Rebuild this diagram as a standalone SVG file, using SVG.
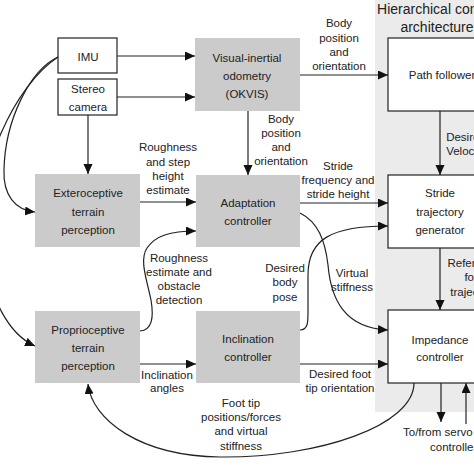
<svg xmlns="http://www.w3.org/2000/svg" width="474" height="474" viewBox="0 0 474 474">
<style>
text{font-family:"Liberation Sans",Arial,sans-serif;font-size:11.5px;fill:#222;text-anchor:middle}
.title{font-size:14px}
.st{text-anchor:start}
.g{fill:#cbcbcb;stroke:none}
.w{fill:#fff;stroke:#222;stroke-width:1.2}
.c{fill:none;stroke:#222;stroke-width:1.2}
</style>
<defs>
<marker id="ah" markerUnits="userSpaceOnUse" markerWidth="11" markerHeight="10" refX="10" refY="4.5" orient="auto">
<path d="M0,0 L10,4.5 L0,9 z" fill="#111"/>
</marker>
</defs>
<rect width="474" height="474" fill="#fff"/>
<g id="panel">
<rect x="375" y="0" width="110" height="412" fill="#ebebeb"/>
<text class="title" x="437" y="14">Hierarchical control</text>
<text class="title" x="437" y="32">architecture</text>
</g>
<g id="imu"><rect class="w" x="58" y="38" width="59" height="35"/><text x="88" y="61">IMU</text></g>
<g id="stereo"><rect class="w" x="58" y="79" width="59" height="36"/><text x="88" y="93">Stereo</text><text x="88" y="111">camera</text></g>
<g id="vio"><rect class="g" x="195" y="38" width="105" height="73"/><text x="247" y="62">Visual-inertial</text><text x="247" y="80">odometry</text><text x="247" y="98">(OKVIS)</text></g>
<g id="ext"><rect class="g" x="35" y="174" width="105" height="73"/><text x="88" y="197">Exteroceptive</text><text x="88" y="216">terrain</text><text x="88" y="234">perception</text></g>
<g id="adapt"><rect class="g" x="196" y="175" width="104" height="72"/><text x="248" y="207">Adaptation</text><text x="248" y="225">controller</text></g>
<g id="prop"><rect class="g" x="35" y="311" width="105" height="72"/><text x="88" y="334">Proprioceptive</text><text x="88" y="352">terrain</text><text x="88" y="370">perception</text></g>
<g id="incl"><rect class="g" x="196" y="311" width="104" height="72"/><text x="248" y="343">Inclination</text><text x="248" y="361">controller</text></g>
<g id="path"><rect class="w" x="388" y="38" width="110" height="73"/><text x="442" y="79">Path follower</text></g>
<g id="stride"><rect class="w" x="388" y="175" width="110" height="73"/><text x="440" y="197">Stride</text><text x="440" y="216">trajectory</text><text x="440" y="234">generator</text></g>
<g id="imp"><rect class="w" x="388" y="310" width="110" height="73"/><text x="440" y="344">Impedance</text><text x="440" y="361">controller</text></g>
<g id="connectors">
<path class="c" marker-end="url(#ah)" d="M117,56 H195"/>
<path class="c" marker-end="url(#ah)" d="M117,97 H195"/>
<path class="c" marker-end="url(#ah)" d="M88,115 V174"/>
<path class="c" marker-end="url(#ah)" d="M58,57 C30,70 5,120 4,170 C3,195 15,210 35,212"/>
<path class="c" marker-end="url(#ah)" d="M58,57 C15,85 -25,170 -18,240 C-12,300 10,335 35,346"/>
<path class="c" marker-end="url(#ah)" d="M300,75 H388"/>
<path class="c" marker-end="url(#ah)" d="M248,111 V175"/>
<path class="c" marker-end="url(#ah)" d="M140,202 H196"/>
<path class="c" marker-end="url(#ah)" d="M140,331 C152,330 154,318 151,300 C147,280 139,260 147,248 C155,236 170,231 196,231"/>
<path class="c" marker-end="url(#ah)" d="M300,203 H388"/>
<path class="c" marker-end="url(#ah)" d="M300,330 C308,330 308,322 308,312 L308,275 C308,240 330,226 388,226"/>
<path class="c" marker-end="url(#ah)" d="M300,213 C318,222 325,240 328,265 C331,300 345,328 388,330"/>
<path class="c" marker-end="url(#ah)" d="M140,364 H196"/>
<path class="c" marker-end="url(#ah)" d="M300,364 H388"/>
<path class="c" marker-end="url(#ah)" d="M440,111 V175"/>
<path class="c" marker-end="url(#ah)" d="M440,248 V310"/>
<path class="c" marker-end="url(#ah)" d="M441,383 V422"/>
<path class="c" marker-end="url(#ah)" d="M466,424 V383"/>
<path class="c" marker-end="url(#ah)" d="M414,383 C414,425 320,458 220,457 C140,456 92,420 88,384"/>
</g>
<g id="labels">
<text x="339" y="27">Body</text><text x="339" y="42">position</text><text x="339" y="56">and</text><text x="339" y="70">orientation</text>
<text x="281" y="123">Body</text><text x="281" y="137">position</text><text x="281" y="151">and</text><text x="281" y="165">orientation</text>
<text x="168" y="151">Roughness</text><text x="168" y="166">and step</text><text x="168" y="180">height</text><text x="168" y="194">estimate</text>
<text x="179" y="262">Roughness</text><text x="179" y="276">estimate and</text><text x="179" y="290">obstacle</text><text x="179" y="304">detection</text>
<text x="338" y="170">Stride</text><text x="338" y="184">frequency and</text><text x="338" y="198">stride height</text>
<text x="285" y="272">Desired</text><text x="285" y="286">body</text><text x="285" y="301">pose</text>
<text x="352" y="277">Virtual</text><text x="352" y="291">stiffness</text>
<text x="167" y="379">Inclination</text><text x="167" y="392">angles</text>
<text x="340" y="378">Desired foot</text><text x="340" y="392">tip orientation</text>
<text x="241" y="407">Foot tip</text><text x="241" y="421">positions/forces</text><text x="241" y="435">and virtual</text><text x="241" y="450">stiffness</text>
<text x="466" y="141">Desired</text><text x="466" y="155">Velocity</text>
<text x="474" y="267">Reference</text><text x="474" y="281">foot</text><text x="474" y="296">trajectory</text>
<text class="st" x="403" y="436">To/from servo</text><text class="st" x="430" y="451">controllers</text>
</g>
</svg>
